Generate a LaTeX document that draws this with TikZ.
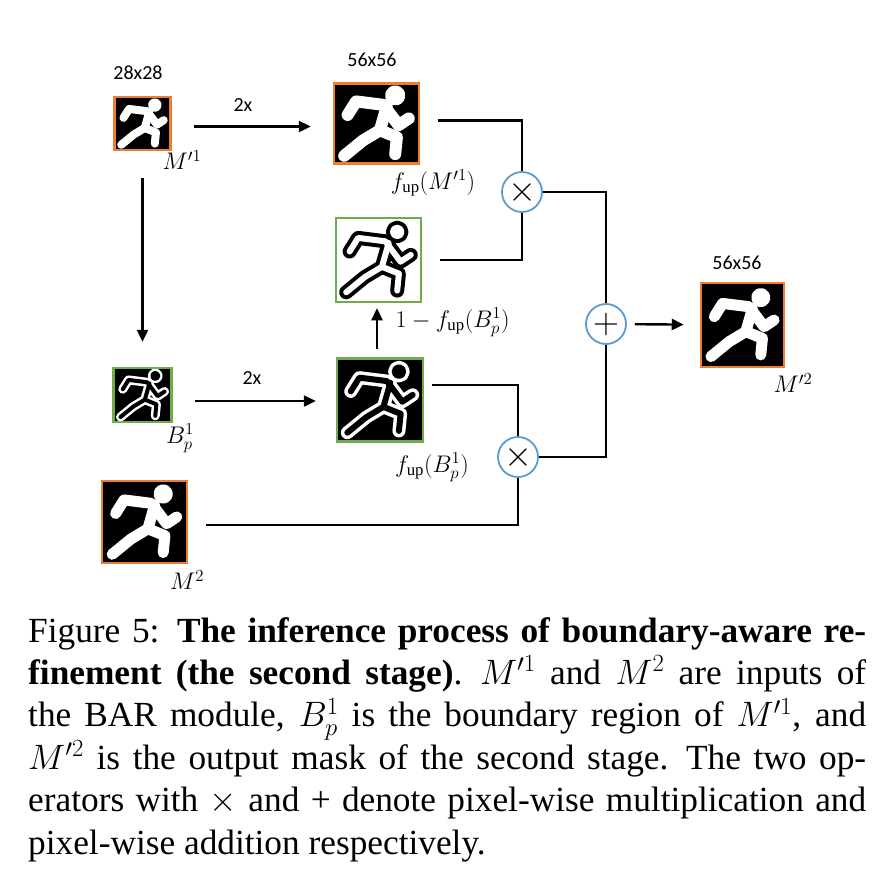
\RequirePackage{fix-cm}
\documentclass[tikz,border=0pt]{standalone}
\usepackage{fontspec}
\setmainfont{Liberation Serif}
\newfontfamily\labfont{Carlito}
\usetikzlibrary{arrows.meta}
\definecolor{maskorange}{HTML}{ED7D31}
\definecolor{bndgreen}{HTML}{70AD47}
\definecolor{opblue}{HTML}{5B9BD5}
\tikzset{img/.style={draw=#1, line width=2.5pt, fill=black, inner sep=0pt},
opnode/.style={circle, draw=opblue, line width=1.8pt, fill=white, minimum size=40pt, inner sep=0pt, font=\fontsize{36}{36}\selectfont},
link/.style={line width=2.4pt},
flow/.style={line width=2.4pt, -{Triangle[length=12pt,width=11pt]}},
dimlabel/.style={font=\labfont\fontsize{20}{24}\selectfont},
masklabel/.style={font=\fontsize{24}{28}\selectfont},
%stroke for the runner
mask/.style={line width=#1, line cap=round, line join=round}}
% runner drawn inside an image box
\newcommand{\runner}[3]{%
\begin{scope}[shift={(#1.center)}, x=#2pt, y=-#2pt, #3]
\draw (-0.34,-0.1) -- (-0.24,-0.26) -- (0.08,-0.22) -- (0.26,0.02) -- (0.38,-0.06);
\draw (0.12,-0.2) -- (0.04,0.08) -- (-0.16,0.2) -- (-0.38,0.38);
\draw (0.04,0.08) -- (0.24,0.16) -- (0.22,0.36);
\filldraw (0.22,-0.33) circle (0.05);
\end{scope}}

\begin{document}
\begin{tikzpicture}[x=1pt,y=-1pt]
\useasboundingbox (0,0) rectangle (894,892);
% images
\node[img=maskorange, minimum width=56pt, minimum height=53pt] (mOne) at (142.5,123.5) {};
\node[img=maskorange, minimum width=85pt, minimum height=80pt] (upM) at (376.5,123.5) {};
\node[img=bndgreen, fill=white, minimum width=85pt, minimum height=84pt] (invB) at (378.5,260) {};
\node[img=bndgreen, minimum width=58pt, minimum height=54pt] (bOne) at (142.5,395) {};
\node[img=bndgreen, minimum width=86pt, minimum height=83pt] (upB) at (380,400) {};
\node[img=maskorange, minimum width=85pt, minimum height=82pt] (mTwo) at (144.5,522) {};
\node[img=maskorange, minimum width=83pt, minimum height=84pt] (out) at (742.5,325) {};

\runner{mOne}{56}{white, mask=8pt}
\runner{upM}{85}{white, mask=12pt}
\runner{mTwo}{85}{white, mask=11pt}
\runner{out}{83}{white, mask=11pt}
\runner{bOne}{58}{white, mask=9pt}
\runner{bOne}{58}{black, mask=4pt}
\runner{upB}{86}{white, mask=13pt}
\runner{upB}{86}{black, mask=6pt}
\runner{invB}{85}{black, mask=14pt}
\runner{invB}{85}{white, mask=6pt}

% operators
\node[opnode] (mulA) at (522,192) {$\times$};
\node[opnode] (mulB) at (518,457) {$\times$};
\node[opnode] (addC) at (606,324) {$+$};

% sizes and names
\node[dimlabel] (dimA) at (138,73) {28x28};
\node[dimlabel] (dimB) at (372,60) {56x56};
\node[dimlabel] (dimC) at (737,263) {56x56};
\node[dimlabel] (twoA) at (243,105) {2x};
\node[dimlabel] (twoB) at (252,378) {2x};
\node[masklabel] (lmOne) at (182,160) {$M'^1$};
\node[masklabel] (lupM) at (433,183) {$f_{\mathrm{up}}(M'^1)$};
\node[masklabel, anchor=west] (linvB) at (392,322) {$1-f_{\mathrm{up}}\big(B_p^1\big)$};
\node[masklabel] (lbOne) at (180,438) {$B_p^1$};
\node[masklabel] (lupB) at (432,467) {$f_{\mathrm{up}}\big(B_p^1\big)$};
\node[masklabel] (lmTwo) at (187,580) {$M^2$};
\node[masklabel] (lout) at (793,383) {$M'^2$};

% arrows
\draw[flow, shorten <=22pt, shorten >=22pt] ([yshift=-3pt]mOne.east) -- ([yshift=-3pt]mOne.east -| upM.west);
\draw[flow, shorten <=27pt, shorten >=25pt] (mOne) -- (bOne);
\draw[flow, shorten <=22pt, shorten >=20pt] ([yshift=-6pt]bOne.east) -- ([yshift=-6pt]bOne.east -| upB.west);
\draw[flow, shorten <=8pt, shorten >=5pt] (upB.north -| 377,0) -- (invB.south -| 377,0);
\draw[flow, shorten <=8pt, shorten >=16pt] (addC) -- (out);

% lines into the operators
\draw[link] ([xshift=18pt,yshift=3pt]upM.east) -| (mulA);
\draw[link] ([xshift=18pt]invB.east) -| (mulA);
\draw[link] ([xshift=8pt,yshift=15pt]upB.east) -| (mulB);
\draw[link] ([xshift=18pt,yshift=-3pt]mTwo.east) -| (mulB);
\draw[link] (mulA) -| (addC);
\draw[link] (mulB) -| (addC);

% caption
\node[anchor=north west, inner sep=0pt, align=left, font=\fontsize{35.3}{42.4}\selectfont] (cap) at (28,617) {%
\hbox to 838pt{Figure 5: \textbf{The inference process of boundary-aware re-}}\\
\hbox to 838pt{\textbf{finement (the second stage)}.\enspace $M'^1$ and $M^2$ are inputs of}\\
\hbox to 838pt{the BAR module, $B_p^1$ is the boundary region of $M'^1$, and}\\
\hbox to 838pt{$M'^2$ is the output mask of the second stage.\enspace The two op-}\\
\hbox to 838pt{erators with $\times$ and + denote pixel-wise multiplication and}\\
pixel-wise addition respectively.};
\end{tikzpicture}
\end{document}
